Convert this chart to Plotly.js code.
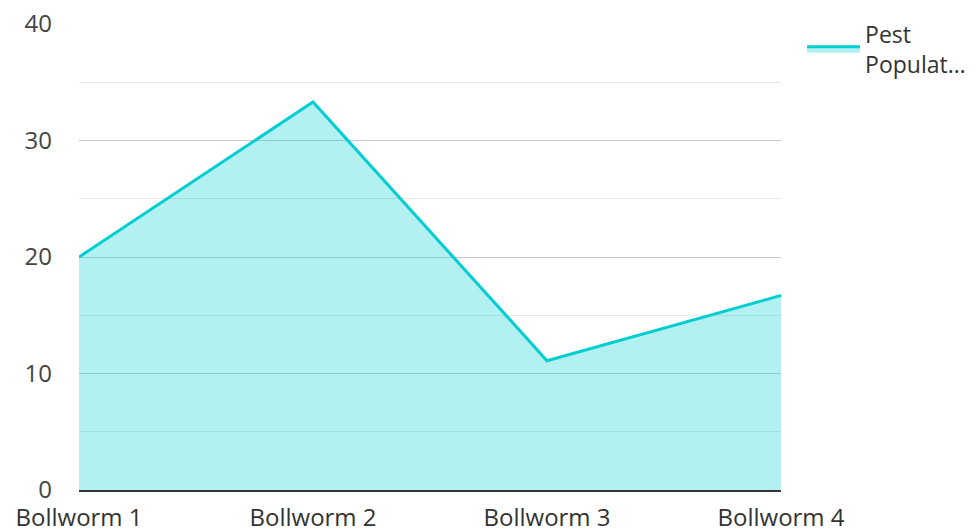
<!DOCTYPE html>
<html>
<head>
<meta charset="utf-8">
<script src="https://cdn.plot.ly/plotly-3.0.1.min.js"></script>
<style>html,body{margin:0;padding:0;background:#fff;}#chart{width:978px;height:531px;}</style>
</head>
<body>
<div id="chart"></div>
<script>
const categories = ["Bollworm 1", "Bollworm 2", "Bollworm 3", "Bollworm 4"];
const pestPopulation = [20, 33.3, 11.1, 16.7];
const seriesName = "Pest<br>Populat…";
const yTicks = [0, 10, 20, 30, 40];

const trace = {
  type: "scatter",
  mode: "lines",
  x: categories,
  y: pestPopulation,
  name: seriesName,
  fill: "tozeroy",
  fillcolor: "rgba(0,206,209,0.3)",
  line: {color: "#00CED1", width: 3},
  hoverinfo: "x+y"
};

const layout = {
  width: 978,
  height: 531,
  margin: {l: 79, r: 197, t: 24, b: 41, autoexpand: false},
  paper_bgcolor: "#ffffff",
  plot_bgcolor: "#ffffff",
  font: {family: "Open Sans, Noto Sans, sans-serif", size: 24, color: "#444444"},
  showlegend: true,
  legend: {
    x: 1.03, xanchor: "left", y: 1.025, yanchor: "top",
    itemwidth: 53,
    font: {size: 23, color: "#333333"},
    bgcolor: "rgba(0,0,0,0)"
  },
  xaxis: {
    type: "category",
    range: [0, 3],
    showgrid: false,
    zeroline: false,
    showline: true,
    linecolor: "#333333",
    linewidth: 2,
    ticks: "",
    ticklabelstandoff: 5,
    tickfont: {size: 24, color: "#333333"},
    fixedrange: true
  },
  yaxis: {
    range: [0, 40],
    tickvals: yTicks,
    ticktext: yTicks.map(String),
    showgrid: true,
    gridcolor: "#c8c8c8",
    gridwidth: 1.3,
    zeroline: false,
    showline: false,
    ticks: "",
    ticklabelstandoff: 26,
    tickfont: {size: 24, color: "#444444"},
    minor: {dtick: 5, tick0: 0, showgrid: true, gridcolor: "#e6e6e6", gridwidth: 1.3},
    fixedrange: true
  }
};

Plotly.newPlot("chart", [trace], layout, {displayModeBar: false, responsive: false});
</script>
</body>
</html>
